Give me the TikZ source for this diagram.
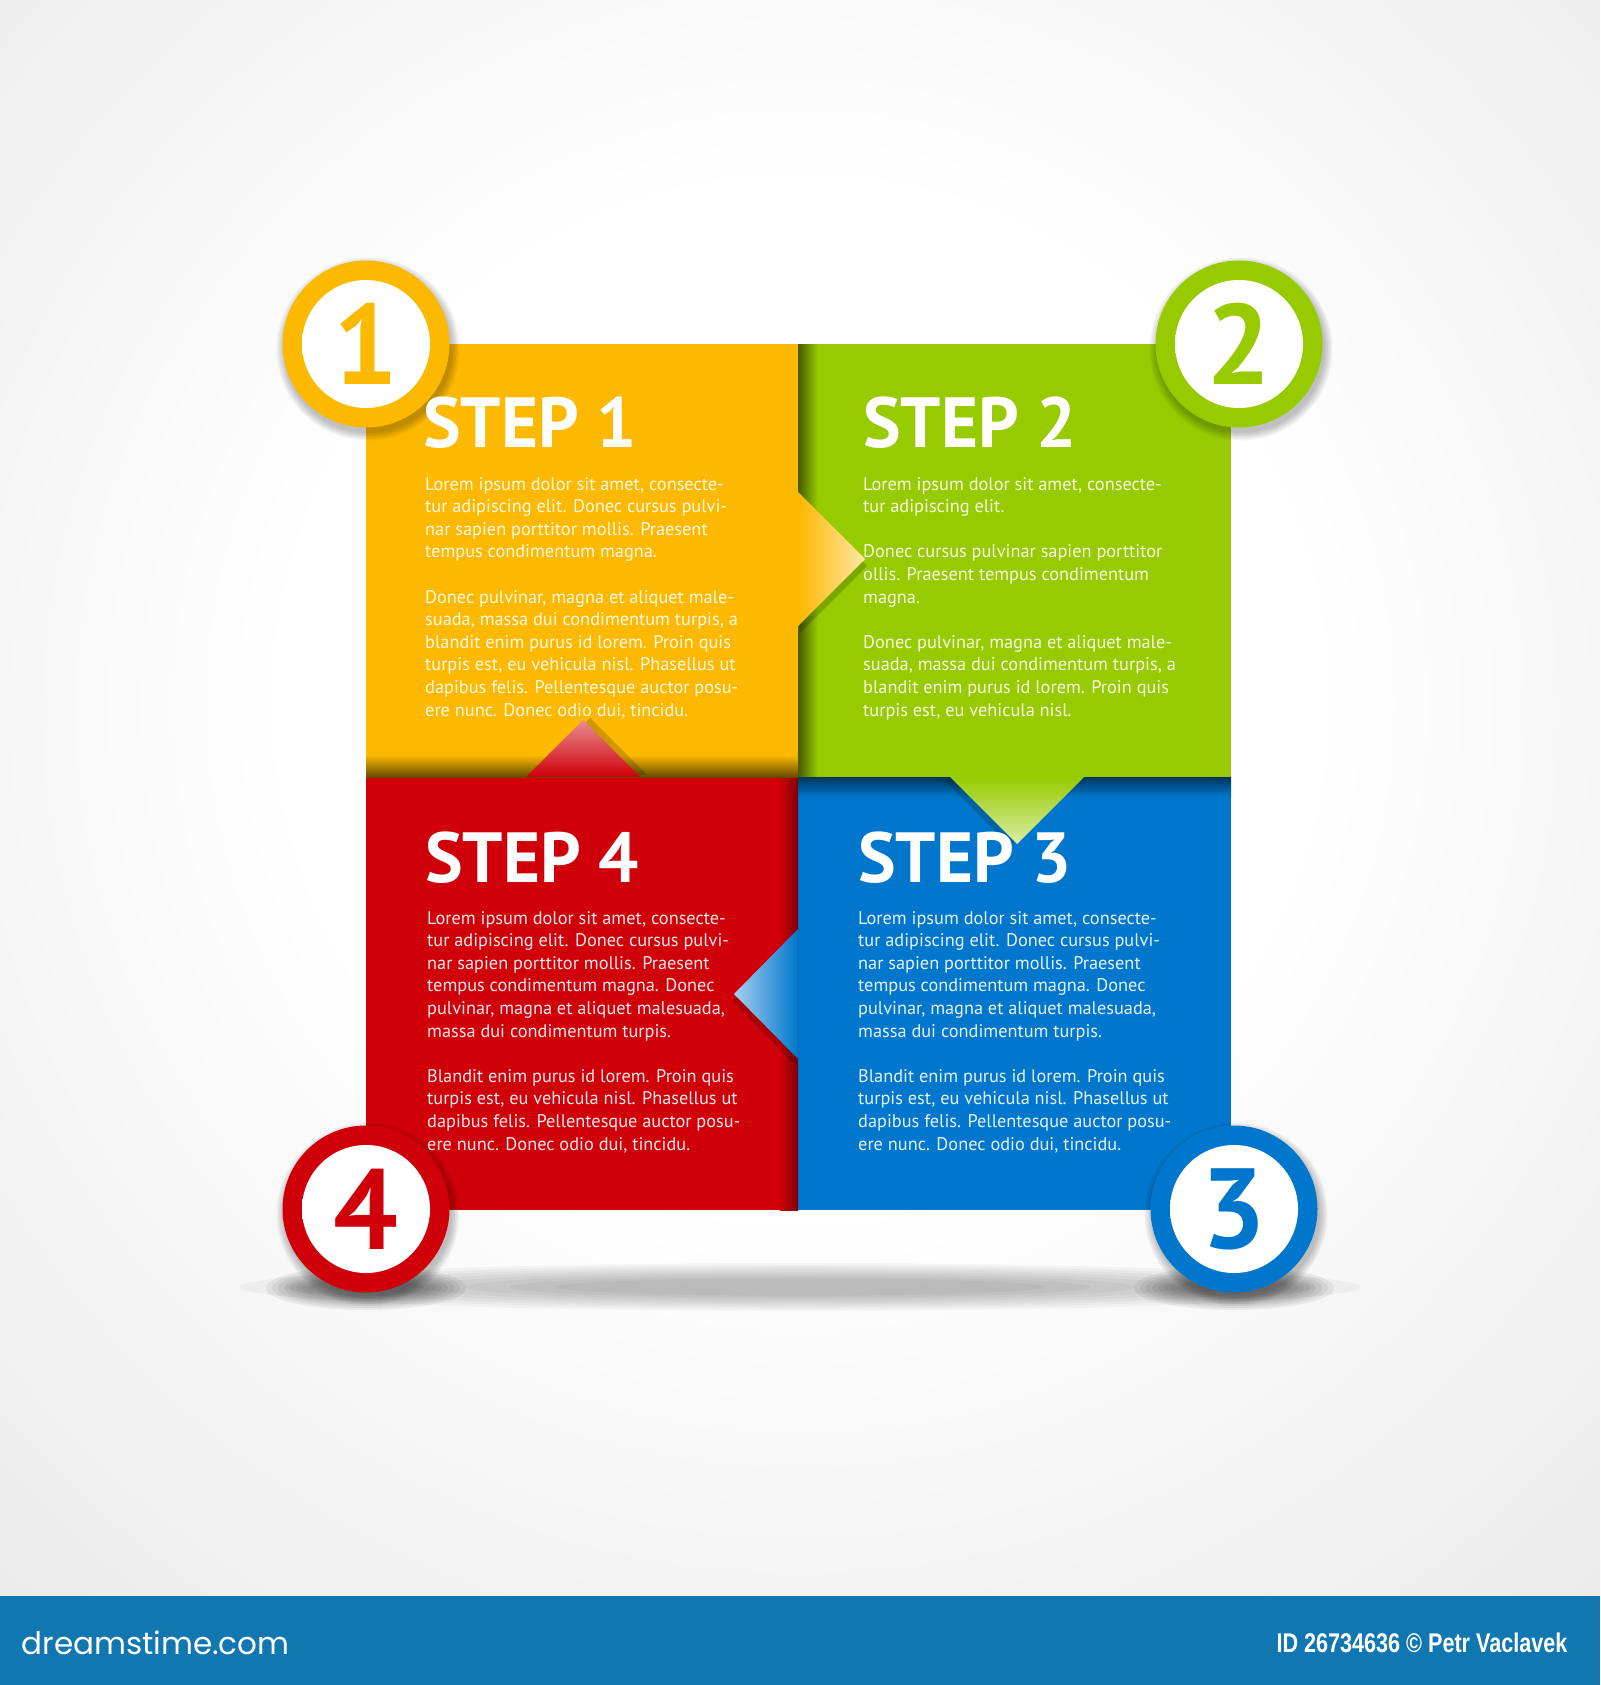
\documentclass[tikz,border=0pt]{standalone}
\usepackage{fontspec}
\setmainfont{PT Sans}
\newfontfamily\logofont{Poppins}
\newfontfamily\creditfont{Liberation Sans}

\definecolor{stepone}{RGB}{253,184,0}
\definecolor{steptwo}{RGB}{151,203,0}
\definecolor{stepthree}{RGB}{0,119,204}
\definecolor{stepfour}{RGB}{207,0,9}
\definecolor{barblue}{RGB}{17,119,176}

\pgfdeclareradialshading{backdrop}{\pgfpoint{0bp}{4bp}}{%
  color(0bp)=(white); color(16bp)=(white); color(50bp)=(black!13); color(72bp)=(black!19)}
\pgfdeclareradialshading{insetshade}{\pgfpoint{0bp}{-6bp}}{%
  color(0bp)=(white); color(40bp)=(white); color(50bp)=(black!8); color(56bp)=(black!28); color(60bp)=(black!28)}

\begin{document}
\begin{tikzpicture}[x=1pt,y=-1pt,
  heading/.style={anchor=base west, inner sep=0, text=white, font=\bfseries\fontsize{71}{71}\selectfont},
  bodytext/.style={anchor=north west, inner sep=0, align=left, text=white, text opacity=0.9, font=\fontsize{18.3}{22.6}\selectfont},
  ring/.style={circle, minimum size=167, inner sep=0},
  hole/.style={circle, minimum size=128, inner sep=0, shade, shading=insetshade, font=\bfseries\fontsize{114}{114}\selectfont},
  tabshadow/.style={fill=black, opacity=0.18}]

\useasboundingbox (0,0) rectangle (1600,1685);
\shade[shading=backdrop] (0,0) rectangle (1600,1596);
\fill[barblue] (0,1596) rectangle (1600,1685);
\node[anchor=west, text=white, font=\logofont\fontsize{31}{31}\selectfont] (logo) at (18,1643) {dreamstime.com};
\node[anchor=east, text=white, font=\creditfont\bfseries\fontsize{27}{27}\selectfont] (credit) at (1571,1643) {\scalebox{0.8}[1]{ID 26734636 © Petr Vaclavek}};

% shadow under the square
\foreach \k in {0,...,7}
  \fill[black, opacity=0.035] (800,1287) ellipse ({560-\k*45} and {24-\k*2.2});
\foreach \cx in {366,1234}
  \foreach \k in {0,...,7}
    \fill[black, opacity=0.06] (\cx,1288) ellipse ({100-\k*6} and {22-\k*2});

% panels
\fill[stepone] (366,344) rectangle (798,777);
\fill[steptwo] (798,344) rectangle (1231,777);
\fill[stepthree] (798,777) rectangle (1231,1210);
\fill[stepfour] (366,777) rectangle (798,1210);

\shade[left color=steptwo!45!black, right color=steptwo] (798,344) rectangle (818,777);
\shade[top color=stepthree!45!black, bottom color=stepthree] (798,777) rectangle (1231,797);
\shade[left color=stepfour, right color=stepfour!60!black] (780,777) rectangle (798,1210);
\shade[top color=stepone, bottom color=stepone!40!black] (366,755) rectangle (798,777);

% tabs
\begin{scope}[shift={(2,7)}]
\fill[tabshadow] (798,492) -- (865,559) -- (798,626) -- cycle;
\end{scope}
\shade[left color=stepone, middle color=stepone, right color=stepone!35!white] (798,492) -- (865,559) -- (798,626) -- cycle;

\begin{scope}[shift={(-7,2)}]
\fill[tabshadow] (950,777) -- (1017,844) -- (1084,777) -- cycle;
\end{scope}
\shade[top color=steptwo, middle color=steptwo, bottom color=steptwo!35!white] (950,777) -- (1017,844) -- (1084,777) -- cycle;

\begin{scope}[shift={(-2,7)}]
\fill[tabshadow] (798,929) -- (734,994) -- (798,1059) -- cycle;
\end{scope}
\shade[right color=stepthree, middle color=stepthree, left color=stepthree!35!white] (798,929) -- (734,994) -- (798,1059) -- cycle;

\begin{scope}[shift={(7,-2)}]
\fill[tabshadow] (526,777) -- (583,720) -- (640,777) -- cycle;
\end{scope}
\shade[bottom color=stepfour, middle color=stepfour, top color=stepfour!45!white] (526,777) -- (583,720) -- (640,777) -- cycle;

% number circles
\foreach \cx/\cy in {366/344, 1239/344, 1234/1209, 366/1209}
  \foreach \k in {0,...,5}
    \fill[black, opacity=0.045] (\cx+2,\cy+5) circle ({84+\k*1.5});

\node[ring, fill=stepone] (ring1) at (366,344) {};
\node[ring, fill=steptwo] (ring2) at (1239,344) {};
\node[ring, fill=stepthree] (ring3) at (1234,1209) {};
\node[ring, fill=stepfour] (ring4) at (366,1209) {};

\node[hole, text=stepone] (num1) at (ring1) {1};
\node[hole, text=steptwo] (num2) at (ring2) {2};
\node[hole, text=stepthree] (num3) at (ring3) {3};
\node[hole, text=stepfour] (num4) at (ring4) {4};

% texts
\node[heading] (head1) at (423,447) {STEP 1};
\node[heading] (head2) at (863,447) {STEP 2};
\node[heading] (head3) at (858,882) {STEP 3};
\node[heading] (head4) at (425,882) {STEP 4};

\node[bodytext] (body1) at (425,477) {Lorem ipsum dolor sit amet, consecte-\\
tur adipiscing elit. Donec cursus pulvi-\\
nar sapien porttitor mollis. Praesent\\
tempus condimentum magna.\\[22.6pt]
Donec pulvinar, magna et aliquet male-\\
suada, massa dui condimentum turpis, a\\
blandit enim purus id lorem. Proin quis\\
turpis est, eu vehicula nisl. Phasellus ut\\
dapibus felis. Pellentesque auctor posu-\\
ere nunc. Donec odio dui, tincidu.};

\node[bodytext] (body2) at (863,477) {Lorem ipsum dolor sit amet, consecte-\\
tur adipiscing elit.\\[22.6pt]
Donec cursus pulvinar sapien porttitor\\
ollis. Praesent tempus condimentum\\
magna.\\[22.6pt]
Donec pulvinar, magna et aliquet male-\\
suada, massa dui condimentum turpis, a\\
blandit enim purus id lorem. Proin quis\\
turpis est, eu vehicula nisl.};

\node[bodytext] (body3) at (858,911) {Lorem ipsum dolor sit amet, consecte-\\
tur adipiscing elit. Donec cursus pulvi-\\
nar sapien porttitor mollis. Praesent\\
tempus condimentum magna. Donec\\
pulvinar, magna et aliquet malesuada,\\
massa dui condimentum turpis.\\[22.6pt]
Blandit enim purus id lorem. Proin quis\\
turpis est, eu vehicula nisl. Phasellus ut\\
dapibus felis. Pellentesque auctor posu-\\
ere nunc. Donec odio dui, tincidu.};

\node[bodytext] (body4) at (427,911) {Lorem ipsum dolor sit amet, consecte-\\
tur adipiscing elit. Donec cursus pulvi-\\
nar sapien porttitor mollis. Praesent\\
tempus condimentum magna. Donec\\
pulvinar, magna et aliquet malesuada,\\
massa dui condimentum turpis.\\[22.6pt]
Blandit enim purus id lorem. Proin quis\\
turpis est, eu vehicula nisl. Phasellus ut\\
dapibus felis. Pellentesque auctor posu-\\
ere nunc. Donec odio dui, tincidu.};
\end{tikzpicture}
\end{document}
